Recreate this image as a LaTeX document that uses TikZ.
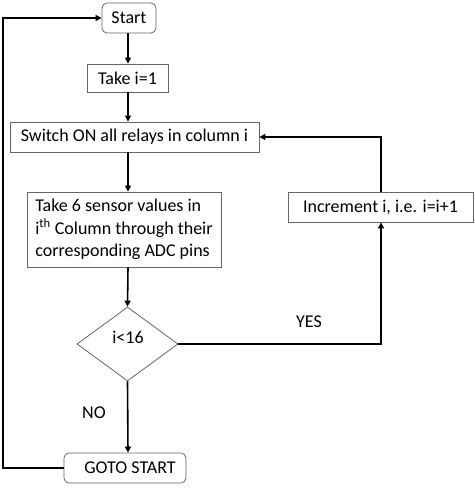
\documentclass[tikz,border=0pt]{standalone}
\usepackage{fontspec}
\setmainfont{Carlito}
\usetikzlibrary{arrows.meta,shapes.geometric}
\begin{document}
\begin{tikzpicture}[x=1pt,y=-1pt,
  font=\fontsize{18}{22.5}\selectfont,
  box/.style={draw=black!60,line width=0.8pt,fill=white,inner sep=0pt,align=center},
  rbox/.style={box,rounded corners=5pt},
  dec/.style={draw=black!60,line width=0.8pt,diamond,inner sep=0pt,minimum width=101pt,minimum height=74pt},
  conn/.style={line width=1.6pt,-{Triangle[length=6pt,width=6pt]}},
  lab/.style={inner sep=0pt}]
\useasboundingbox (0,0) rectangle (474,490);
\fill[white] (0,0) rectangle (474,490);
\coordinate (c) at (128,0);
\node[rbox,minimum width=54pt,minimum height=30pt] (start) at (129,18) {Start};
\node[box,minimum width=81pt,minimum height=28pt] (take) at (127.5,78) {Take i=1};
\node[box,minimum width=249pt,minimum height=30pt] (switch) at (134.5,137) {Switch ON all relays in column i};
\node[box,minimum width=194pt,minimum height=75pt,align=left] (sensor) at (124,229.5) {Take 6 sensor values in\\i\textsuperscript{th} Column through their\\corresponding ADC pins};
\node[dec] (dia) at (127.5,344) {};
\node[lab] (dtext) at (128,337) {i<16};
\node[box,minimum width=185pt,minimum height=30pt] (inc) at (380.5,207) {Increment i, i.e. i=i+1};
\node[rbox,minimum width=122pt,minimum height=30pt] (goto) at (125,468) {\hspace{10pt}GOTO START};
\node[lab] (yes) at (309,322) {YES};
\node[lab] (no) at (94,413) {NO};
\coordinate (loopx) at (3,0);
\draw[conn] (c |- start.south) -- (c |- take.north);
\draw[conn] (c |- take.south) -- (c |- switch.north);
\draw[conn] (c |- switch.south) -- (c |- sensor.north);
\draw[conn] (c |- sensor.south) -- (dia.north);
\draw[conn] (dia.south) -- (c |- goto.north);
\draw[conn] (dia.east) -| ([xshift=0.5pt]inc.south);
\draw[conn] ([xshift=0.5pt]inc.north) |- (switch.east);
\draw[conn] (goto.west) -| (loopx |- start.west) -- (start.west);
\end{tikzpicture}
\end{document}
